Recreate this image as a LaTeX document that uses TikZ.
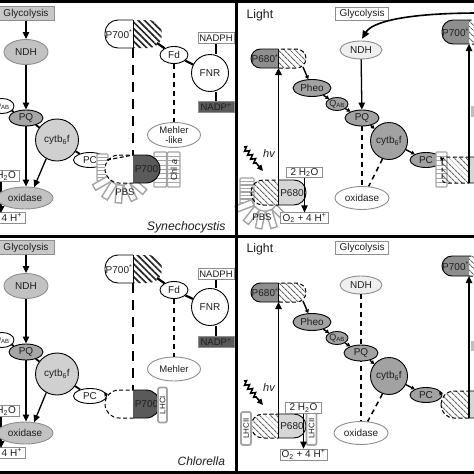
\documentclass[tikz,border=0pt]{standalone}
\usepackage{fontspec}
\setmainfont{Liberation Sans}
\usetikzlibrary{shapes.geometric,arrows.meta,patterns.meta,decorations.pathmorphing}
\definecolor{gA}{HTML}{C2C2C2}
\definecolor{gP}{HTML}{A6A6A6}
\definecolor{gC}{HTML}{D0D0D0}
\definecolor{gR}{HTML}{A2A2A2}
\definecolor{gD}{HTML}{8E8E8E}
\definecolor{gL}{HTML}{D6D6D6}
\definecolor{gK}{HTML}{5A5A5A}
\definecolor{gB}{HTML}{8E8E8E}
\definecolor{gS}{HTML}{A4A4A4}
\definecolor{gN}{HTML}{EFEFEF}
\definecolor{gY}{HTML}{C8C8C8}
\definecolor{txt}{HTML}{1E1E1E}
\newcommand\LHalf[6]{\begin{scope}\clip (#2-3,#3-3) rectangle (#4,#5+3);\path[#1,rounded corners=#6pt] (#2,#3) rectangle (#4+#6+4,#5);\end{scope}}
\newcommand\RHalf[6]{\begin{scope}\clip (#2,#3-3) rectangle (#4+3,#5+3);\path[#1,rounded corners=#6pt] (#2-#6-4,#3) rectangle (#4,#5);\end{scope}}
\newcommand\Ladder[4]{\draw[stripe,fill=white,rounded corners=1pt] (#1,#2) rectangle (#3,#4);\foreach \k in {1,...,7}{\pgfmathsetmacro\yy{#2+\k*(#4-#2)/8}\draw[stripe] (#1,\yy) -- (#3,\yy);}}
\newcommand\Rays[4]{\foreach \a in {#4}{\draw[ray,shift={(#1,#2)},rotate=-\a] (13,-3.2) rectangle (#3,3.2);}}
\begin{document}
\begin{tikzpicture}[x=1pt,y=-1pt,
  every node/.style={font=\fontsize{10}{11}\selectfont, text=txt},
  el/.style={ellipse, inner sep=0pt, draw=black, line width=0.9pt},
  box/.style={rectangle, draw=gB, line width=0.8pt, fill=white, inner sep=0pt, minimum height=10.5pt},
  arr/.style={line width=1.3pt, -{Triangle[length=7pt,width=6.5pt]}},
  lnk/.style={line width=1.8pt},
  lnka/.style={line width=1.4pt, -{Triangle[length=3.5pt,width=4pt]}},
  thickdash/.style={line width=2.8pt, dash pattern=on 10pt off 7pt},
  thindash/.style={line width=1.5pt, dash pattern=on 5pt off 4pt},
  sdash/.style={line width=1pt, dash pattern=on 4pt off 2.5pt},
  stripe/.style={draw=gS, line width=1.2pt},
  ray/.style={draw=gS, line width=1.4pt, fill=white},
  hatchK/.style={pattern={Lines[angle=-45,distance=4.5pt,line width=1.7pt]}, pattern color=black!85},
  hatchG/.style={pattern={Lines[angle=-45,distance=4pt,line width=1.1pt]}, pattern color=black!60},
  lhc/.style={rectangle, rounded corners=2pt, draw=gS, line width=1.8pt, fill=white, inner sep=0pt, font=\fontsize{8}{9}\selectfont, rotate=90},
]
\path[use as bounding box] (0,0) rectangle (474,474);
\clip (0,0) rectangle (474,474);
\fill[white] (0,0) rectangle (474,474);

% ================= TOP LEFT =================
\node[box, fill=gY, minimum width=56pt, minimum height=13.5pt] (glyTL) at (26,13.5) {Glycolysis};
\node[el, draw=gB, fill=gA, minimum width=44pt, minimum height=25pt] (ndhTL) at (26,52) {NDH};
\node[el, fill=white, minimum width=24pt, minimum height=15pt, font=\fontsize{9}{10}\selectfont] (qabTL) at (2,106) {Q\textsubscript{AB}};
\node[el, fill=gP, minimum width=34pt, minimum height=16pt] (pqTL) at (26,118) {PQ};
\node[el, fill=gC, minimum width=43pt, minimum height=42pt] (cytTL) at (57,140) {cytb\textsubscript{6}f};
\node[el, fill=white, minimum width=33pt, minimum height=15pt] (pcTL) at (90,160) {PC};
\node[box, minimum width=34pt] (h2oTL) at (2,176) {2 H\textsubscript{2}O};
\node[box, minimum width=50pt] (o2TL) at (0,218) {O\textsubscript{2} + 4 H\textsuperscript{+}};
\coordinate (h2oTLa) at (1,181.5);
\coordinate (o2TLa) at (1,213);
\draw[arr, line width=2pt] (h2oTLa) -- (o2TLa);
\node[el, draw=gB, fill=gA, minimum width=56pt, minimum height=22pt] (oxTL) at (25,198) {oxidase};
\draw[arr] (glyTL) -- (ndhTL);
\draw[arr] (ndhTL) -- (pqTL);
\draw[arr] (pqTL) -- (pqTL |- oxTL.north);
\draw[arr] (cytTL.240) -- (oxTL.50);
\draw[lnk] (qabTL) -- (pqTL);
\draw[lnk] (pqTL) -- (cytTL);
\draw[lnk] (cytTL) -- (pcTL);
% P700*
\LHalf{fill=white, draw=black, line width=0.9pt}{105}{20}{133}{48}{13}
\RHalf{hatchK}{133}{20}{162}{48}{13}
\draw[line width=0.9pt] (133,20) -- (133,48);
\node (p700sTL) at (119,34) {P700\textsuperscript{*}};
\coordinate (p700sTLr) at (157,43);
\coordinate (p700sTLb) at (133,48);
\node[el, fill=white, minimum width=28pt, minimum height=17pt] (fdTL) at (174,55) {Fd};
\node[el, fill=white, minimum size=37pt] (fnrTL) at (210,73) {FNR};
\node[box, minimum width=36pt, font=\fontsize{9.5}{10}\selectfont] (nadphTL) at (216,38) {NADPH};
\node[box, fill=gK, minimum width=36pt, font=\fontsize{9.5}{10}\selectfont] (nadpTL) at (216,107) {NADP\textsuperscript{+}};
\draw[line width=2.2pt] (p700sTLr) -- (fdTL);
\draw[line width=2.2pt] (fdTL) -- (fnrTL);
\draw[line width=1.2pt] (nadphTL) -- (nadphTL |- fnrTL.north);
\draw[line width=1.2pt] (nadpTL) -- (nadpTL |- fnrTL.south);
\node[el, draw=gB, fill=white, minimum width=53pt, minimum height=25pt, align=center, font=\fontsize{9.5}{10.5}\selectfont] (mehTL) at (174,135) {Mehler\\-like};
\draw[thindash] (fdTL) -- (mehTL);
% P700 with PBS and Chl a
\Ladder{97}{154}{108}{181}
\Rays{121}{172}{31}{40,65,95,122,150}
\Ladder{154}{152}{166.5}{187}
\Ladder{167.5}{152}{180}{187}
\LHalf{fill=white, draw=black, sdash}{105}{155}{133}{183}{14}
\RHalf{fill=gK, draw=black, line width=0.9pt}{133}{155}{160}{183}{14}
\node (p700TL) at (146.5,169) {P700};
\node[rotate=90, font=\fontsize{9}{10}\selectfont] (chlTL) at (174,170) {Chl \textit{a}};
\node[font=\fontsize{9.5}{10}\selectfont] (pbsTL) at (125,192) {PBS};
\coordinate (p700TLt) at (133,155);
\draw[thickdash] (p700sTLb) -- (p700TLt);
\draw[sdash, line width=1.2pt] (pcTL.east) -- (p700TLt);
\node[anchor=east, font=\itshape\fontsize{12.3}{13}\selectfont] (synTL) at (229,227) {Synechocystis};

% ================= TOP RIGHT =================
\node[anchor=west, font=\fontsize{12.3}{13}\selectfont] (lightTR) at (243,15) {Light};
\node[box, minimum width=53pt, minimum height=13pt] (glyTR) at (362,13.5) {Glycolysis};
\node[el, draw=gB, fill=gN, minimum width=42pt, minimum height=18pt] (ndhTR) at (361,50) {NDH};
\coordinate (inTR) at (480,13);
\draw[line width=1.6pt, -{Triangle[length=8pt,width=7pt]}, shorten >=2pt] (inTR) .. controls (405,13) and (372,22) .. (ndhTR.north);
\LHalf{fill=gD, draw=black, line width=0.9pt}{251}{49}{278.5}{68}{9.5}
\RHalf{hatchG, draw=black, sdash}{278.5}{49}{306}{68}{9.5}
\draw[line width=0.9pt] (278.5,49) -- (278.5,68);
\node (p680sTR) at (265,58.5) {P680\textsuperscript{*}};
\coordinate (p680sTRr) at (303,67);
\coordinate (p680sTRb) at (278.5,68);
\node[el, fill=gR, minimum width=38pt, minimum height=17pt] (pheoTR) at (312,88) {Pheo};
\node[el, fill=gR, minimum width=22pt, minimum height=13pt, font=\fontsize{9}{10}\selectfont] (qabTR) at (337,104) {Q\textsubscript{AB}};
\node[el, fill=gR, minimum width=34pt, minimum height=16pt] (pqTR) at (362,118) {PQ};
\node[el, fill=gR, minimum size=37pt] (cytTR) at (389,141) {cytb\textsubscript{6}f};
\node[el, fill=gR, minimum width=32pt, minimum height=15pt] (pcTR) at (426,160) {PC};
\node[el, draw=gB, fill=white, minimum width=54pt, minimum height=23pt] (oxTR) at (362,198) {oxidase};
\draw[lnka] (p680sTRr) -- (pheoTR);
\draw[lnka] (pheoTR) -- (qabTR);
\draw[lnka] (qabTR) -- (pqTR);
\draw[lnka] (pqTR) -- (cytTR);
\draw[lnka] (cytTR) -- (pcTR);
\draw[arr] (ndhTR) -- (pqTR);
\draw[thindash] (pqTR) -- (oxTR);
\draw[thindash] (cytTR.250) -- (oxTR.60);
% hv
\coordinate (hvaTR) at (244,147);
\coordinate (hvbTR) at (257,164);
\coordinate (hvcTR) at (263,171);
\draw[line width=1.6pt, decorate, decoration={zigzag, segment length=5pt, amplitude=2.2pt}] (hvaTR) -- (hvbTR);
\draw[line width=1.6pt, -{Triangle[length=6pt,width=5.5pt]}] (hvbTR) -- (hvcTR);
\node[font=\itshape\fontsize{11}{12}\selectfont] (hvTR) at (269,154) {hv};
% P680 with PBS
\Ladder{240}{178}{254}{206}
\Rays{265}{198}{31}{45,73,102,128,159}
\LHalf{hatchG, draw=black, sdash}{251}{180}{278.5}{205}{12}
\RHalf{fill=gL, draw=black, line width=0.9pt}{278.5}{180}{306}{205}{12}
\draw[line width=0.9pt] (278.5,180) -- (278.5,205);
\node (p680TR) at (292,193) {P680};
\coordinate (p680TRb) at (278.5,205);
\draw[arr, line width=1.6pt] (p680TRb) -- (p680sTRb);
\node[font=\fontsize{9.5}{10}\selectfont] (pbsTR) at (262,217) {PBS};
\node[box, minimum width=36pt] (h2oTR) at (304.5,172.5) {2 H\textsubscript{2}O};
\node[box, minimum width=48pt] (o2TR) at (304.5,218) {O\textsubscript{2} + 4 H\textsuperscript{+}};
\draw[arr] (h2oTR) -- (o2TR);
% P700 right
\LHalf{fill=gD, draw=black, line width=0.9pt}{442}{20}{469}{44}{11}
\RHalf{hatchG, draw=black, sdash}{469}{20}{497}{44}{11}
\node (p700sTR) at (455.5,32.5) {P700\textsuperscript{*}};
\Ladder{436}{152}{447}{187}
\LHalf{hatchG, draw=black, sdash}{442}{157}{469}{183}{4}
\RHalf{fill=gL, draw=black, line width=0.9pt}{469}{157}{497}{183}{12}
\node[anchor=west] (p700TR) at (470.3,170) {P700};
\coordinate (p700TRb) at (469,183);
\coordinate (p700sTRb) at (469,44);
\coordinate (p700TRl) at (444,158.5);
\draw[arr, line width=1.6pt] (p700TRb) -- (p700sTRb);
\draw[lnka] (pcTR) -- (p700TRl);
\fill[gS!70] (471,106) rectangle (476,117);

% ================= BOTTOM LEFT =================
\node[box, fill=gY, minimum width=56pt, minimum height=13.5pt] (glyBL) at (26,247.5) {Glycolysis};
\node[el, draw=gB, fill=gA, minimum width=44pt, minimum height=25pt] (ndhBL) at (26,286) {NDH};
\node[el, fill=white, minimum width=24pt, minimum height=15pt, font=\fontsize{9}{10}\selectfont] (qabBL) at (2,340) {Q\textsubscript{AB}};
\node[el, fill=gP, minimum width=34pt, minimum height=16pt] (pqBL) at (26,352) {PQ};
\node[el, fill=gC, minimum width=43pt, minimum height=42pt] (cytBL) at (57,374) {cytb\textsubscript{6}f};
\node[el, fill=white, minimum width=33pt, minimum height=15pt] (pcBL) at (90,396) {PC};
\node[box, minimum width=34pt] (h2oBL) at (2,411) {2 H\textsubscript{2}O};
\node[box, minimum width=50pt] (o2BL) at (0,453) {O\textsubscript{2} + 4 H\textsuperscript{+}};
\coordinate (h2oBLa) at (1,416.5);
\coordinate (o2BLa) at (1,448);
\draw[arr, line width=2pt] (h2oBLa) -- (o2BLa);
\node[el, draw=gB, fill=gA, minimum width=56pt, minimum height=22pt] (oxBL) at (25,433) {oxidase};
\draw[arr] (glyBL) -- (ndhBL);
\draw[arr] (ndhBL) -- (pqBL);
\draw[arr] (pqBL) -- (pqBL |- oxBL.north);
\draw[arr] (cytBL.240) -- (oxBL.50);
\draw[lnk] (qabBL) -- (pqBL);
\draw[lnk] (pqBL) -- (cytBL);
\draw[lnk] (cytBL) -- (pcBL);
\LHalf{fill=white, draw=black, line width=0.9pt}{105}{255}{133}{283}{13}
\RHalf{hatchK}{133}{255}{162}{283}{13}
\draw[line width=0.9pt] (133,255) -- (133,283);
\node (p700sBL) at (119,269) {P700\textsuperscript{*}};
\coordinate (p700sBLr) at (157,278);
\coordinate (p700sBLb) at (133,283);
\node[el, fill=white, minimum width=28pt, minimum height=17pt] (fdBL) at (174,290) {Fd};
\node[el, fill=white, minimum size=37pt] (fnrBL) at (210,307) {FNR};
\node[box, minimum width=36pt, font=\fontsize{9.5}{10}\selectfont] (nadphBL) at (216,274) {NADPH};
\node[box, fill=gK, minimum width=36pt, font=\fontsize{9.5}{10}\selectfont] (nadpBL) at (216,342) {NADP\textsuperscript{+}};
\draw[line width=2.2pt] (p700sBLr) -- (fdBL);
\draw[line width=2.2pt] (fdBL) -- (fnrBL);
\draw[line width=1.2pt] (nadphBL) -- (nadphBL |- fnrBL.north);
\draw[line width=1.2pt] (nadpBL) -- (nadpBL |- fnrBL.south);
\node[el, draw=gB, fill=white, minimum width=53pt, minimum height=24pt, font=\fontsize{9.5}{10.5}\selectfont] (mehBL) at (174,369) {Mehler};
\draw[thindash] (fdBL) -- (mehBL);
\LHalf{fill=white, draw=black, sdash}{105}{390}{133}{418}{14}
\RHalf{fill=gK, draw=black, line width=0.9pt}{133}{390}{160}{418}{14}
\node (p700BL) at (146.5,404) {P700};
\node[lhc, minimum width=35pt, minimum height=9pt] (lhcBL) at (162.5,405) {LHCI};
\coordinate (p700BLt) at (133,390);
\coordinate (p700BLl) at (108,394);
\draw[thickdash] (p700sBLb) -- (p700BLt);
\draw[lnka] (pcBL) -- (p700BLl);
\node[anchor=east, font=\itshape\fontsize{12}{13}\selectfont] (chlBL) at (228.5,461) {Chlorella};

% ================= BOTTOM RIGHT =================
\node[anchor=west, font=\fontsize{12.3}{13}\selectfont] (lightBR) at (243,249) {Light};
\node[box, minimum width=53pt, minimum height=13pt] (glyBR) at (362,248) {Glycolysis};
\node[el, draw=gB, fill=gN, minimum width=42pt, minimum height=18pt] (ndhBR) at (361,285) {NDH};
\LHalf{fill=gD, draw=black, line width=0.9pt}{251}{283}{278.5}{302}{9.5}
\RHalf{hatchG, draw=black, sdash}{278.5}{283}{306}{302}{9.5}
\draw[line width=0.9pt] (278.5,283) -- (278.5,302);
\node (p680sBR) at (265,292.5) {P680\textsuperscript{*}};
\coordinate (p680sBRr) at (303,301);
\coordinate (p680sBRb) at (278.5,302);
\draw[thindash] (ndhBR) -- (361,433);
\node[el, fill=gR, minimum width=38pt, minimum height=17pt] (pheoBR) at (312,322) {Pheo};
\node[el, fill=gR, minimum width=22pt, minimum height=13pt, font=\fontsize{9}{10}\selectfont] (qabBR) at (337,338) {Q\textsubscript{AB}};
\node[el, fill=gR, minimum width=34pt, minimum height=16pt] (pqBR) at (361,353) {PQ};
\node[el, fill=gR, minimum size=37pt] (cytBR) at (389,376) {cytb\textsubscript{6}f};
\node[el, fill=gR, minimum width=32pt, minimum height=15pt] (pcBR) at (426,395) {PC};
\node[el, draw=gB, fill=white, minimum width=54pt, minimum height=23pt] (oxBR) at (361,433) {oxidase};
\draw[lnka] (p680sBRr) -- (pheoBR);
\draw[lnka] (pheoBR) -- (qabBR);
\draw[lnka] (qabBR) -- (pqBR);
\draw[lnka] (pqBR) -- (cytBR);
\draw[lnka] (cytBR) -- (pcBR);
\draw[thindash] (cytBR.250) -- (oxBR.60);
\coordinate (hvaBR) at (244,381);
\coordinate (hvbBR) at (257,398);
\coordinate (hvcBR) at (263,405);
\draw[line width=1.6pt, decorate, decoration={zigzag, segment length=5pt, amplitude=2.2pt}] (hvaBR) -- (hvbBR);
\draw[line width=1.6pt, -{Triangle[length=6pt,width=5.5pt]}] (hvbBR) -- (hvcBR);
\node[font=\itshape\fontsize{11}{12}\selectfont] (hvBR) at (269,388) {hv};
\LHalf{hatchG, draw=black, sdash}{251}{414}{278.5}{438}{12}
\RHalf{fill=gL, draw=black, line width=0.9pt}{278.5}{414}{306}{438}{12}
\draw[line width=0.9pt] (278.5,414) -- (278.5,438);
\node (p680BR) at (292,426) {P680};
\node[lhc, minimum width=33pt, minimum height=10pt] (lhcBRl) at (246,428.5) {LHCII};
\node[lhc, minimum width=33pt, minimum height=10pt] (lhcBRr) at (311.5,428.5) {LHCII};
\coordinate (p680BRb) at (278.5,438);
\draw[arr, line width=1.6pt] (p680BRb) -- (p680sBRb);
\node[box, minimum width=36pt] (h2oBR) at (303.5,408) {2 H\textsubscript{2}O};
\node[box, minimum width=47pt, minimum height=11pt] (o2BR) at (303.5,454.5) {O\textsubscript{2} + 4 H\textsuperscript{+}};
\draw[arr] (h2oBR) -- (o2BR);
\LHalf{fill=gD, draw=black, line width=0.9pt}{442}{256}{469}{276}{10}
\RHalf{hatchG, draw=black, sdash}{469}{256}{497}{276}{10}
\node (p700sBR) at (455.5,266) {P700\textsuperscript{*}};
\LHalf{hatchG, draw=black, sdash}{441}{391}{469}{418}{13}
\RHalf{fill=gL, draw=black, line width=0.9pt}{469}{391}{497}{418}{12}
\node[anchor=west] (p700BR) at (470.3,404.5) {P700};
\coordinate (p700BRb) at (469,418);
\coordinate (p700sBRb) at (469,276);
\coordinate (p700BRl) at (443,393);
\draw[arr, line width=1.6pt] (p700BRb) -- (p700sBRb);
\draw[lnka] (pcBR) -- (p700BRl);
\fill[gS!70] (471,341) rectangle (476,351);

% ================= FRAME =================
\draw[line width=3pt] (0,1.2) -- (474,1.2);
\draw[line width=3pt] (0,236) -- (474,236);
\draw[line width=3pt] (236,0) -- (236,474);
\draw[line width=4pt] (0,472.5) -- (474,472.5);
\end{tikzpicture}
\end{document}
